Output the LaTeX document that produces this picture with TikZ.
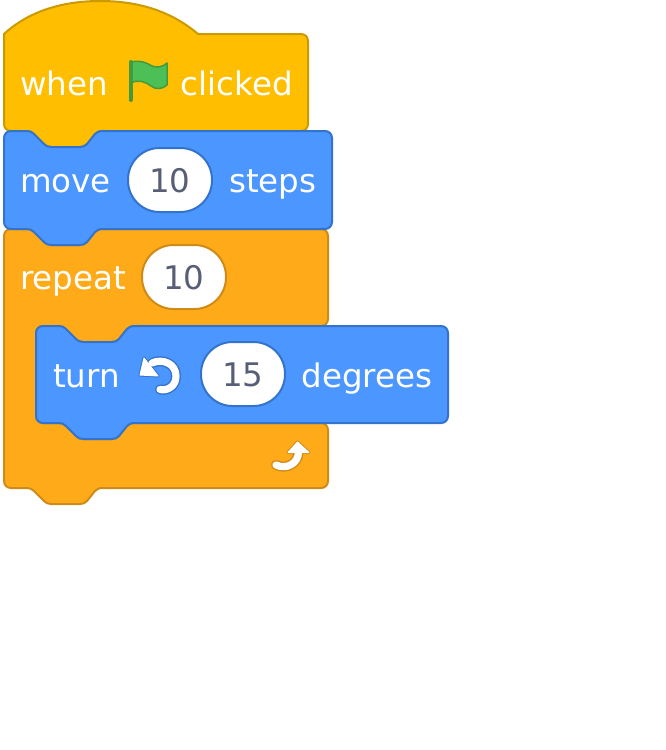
\documentclass[tikz,border=0pt]{standalone}
\usepackage{fontspec}
\setmainfont{DejaVu Sans}
\definecolor{hatfill}{HTML}{FFBF00}
\definecolor{hatline}{HTML}{CC9900}
\definecolor{motfill}{HTML}{4C97FF}
\definecolor{motline}{HTML}{3373CC}
\definecolor{ctlfill}{HTML}{FFAB19}
\definecolor{ctlline}{HTML}{CF8B17}
\definecolor{numtext}{HTML}{575E75}
\definecolor{flagfill}{HTML}{4CBF56}
\definecolor{flagline}{HTML}{45993D}
% notch going left to right (#1 = left edge of the block, #2 = y of the edge)
\newcommand{\notchLR}[2]{
  -- ({#1+23},{#2}) .. controls ({#1+26},{#2}) and ({#1+28},{#2+1}) .. ({#1+30},{#2+3})
  -- ({#1+40},{#2+13}) .. controls ({#1+42},{#2+15}) and ({#1+44},{#2+16}) .. ({#1+47},{#2+16})
  -- ({#1+76},{#2+16}) .. controls ({#1+79},{#2+16}) and ({#1+81},{#2+15}) .. ({#1+83},{#2+13})
  -- ({#1+91},{#2+3}) .. controls ({#1+93},{#2+1}) and ({#1+95},{#2}) .. ({#1+99},{#2})
}
\newcommand{\notchRL}[2]{
  -- ({#1+99},{#2}) .. controls ({#1+95},{#2}) and ({#1+93},{#2+1}) .. ({#1+91},{#2+3})
  -- ({#1+83},{#2+13}) .. controls ({#1+81},{#2+15}) and ({#1+79},{#2+16}) .. ({#1+76},{#2+16})
  -- ({#1+47},{#2+16}) .. controls ({#1+44},{#2+16}) and ({#1+42},{#2+15}) .. ({#1+40},{#2+13})
  -- ({#1+30},{#2+3}) .. controls ({#1+28},{#2+1}) and ({#1+26},{#2}) .. ({#1+23},{#2})
}
\newcommand{\cTR}[2]{-- ({#1-7},{#2}) .. controls ({#1-3},{#2}) and ({#1},{#2+3}) .. ({#1},{#2+7})}
\newcommand{\cBR}[2]{-- ({#1},{#2-7}) .. controls ({#1},{#2-3}) and ({#1-3},{#2}) .. ({#1-7},{#2})}
\newcommand{\cBL}[2]{-- ({#1+7},{#2}) .. controls ({#1+3},{#2}) and ({#1},{#2-3}) .. ({#1},{#2-7})}
\tikzset{
  x=1pt,y=-1pt,
  blockedge/.style={line width=2pt,line join=round},
  label/.style={anchor=base west,inner sep=0pt,text=white,font=\fontsize{32.5}{38}\selectfont},
  pill/.style={draw=#1,line width=2pt,fill=white,rounded corners=31.5pt,minimum width=84pt,minimum height=64pt,inner sep=0pt,text height=24.5pt,text depth=0pt,text=numtext,font=\fontsize{32.5}{38}\selectfont},
}
\begin{document}
\begin{tikzpicture}
\useasboundingbox (0,0) rectangle (666,750);
\fill[white] (0,0) rectangle (666,750);
% hat block
\draw[blockedge,fill=hatfill,draw=hatline] (4,34) .. controls (30,10) and (65,1) .. (100,1)
  .. controls (140,1) and (172,12) .. (198,34)
  \cTR{308}{34} \cBR{308}{131} \notchRL{4}{131} \cBL{4}{131} -- cycle;
% repeat block
\draw[blockedge,fill=ctlfill,draw=ctlline] (4,236) .. controls (4,232) and (7,229) .. (11,229)
  \notchLR{4}{229} \cTR{328}{229} \cBR{328}{326} \notchRL{36}{326} -- (43,326)
  .. controls (39,326) and (36,329) .. (36,333) -- (36,416) .. controls (36,420) and (39,423) .. (43,423)
  \notchLR{36}{423} \cTR{328}{423} \cBR{328}{488} \notchRL{4}{488} \cBL{4}{488} -- cycle;
% move block
\draw[blockedge,fill=motfill,draw=motline] (4,138) .. controls (4,134) and (7,131) .. (11,131)
  \notchLR{4}{131} \cTR{332}{131} \cBR{332}{229} \notchRL{4}{229} \cBL{4}{229} -- cycle;
% turn block
\draw[blockedge,fill=motfill,draw=motline] (36,333) .. controls (36,329) and (39,326) .. (43,326)
  \notchLR{36}{326} \cTR{448}{326} \cBR{448}{423} \notchRL{36}{423} \cBL{36}{423} -- cycle;
% texts
\node[label] (when) at (20,95) {when};
\node[label] (clicked) at (180.5,95) {clicked};
\node[label] (move) at (20,192) {move};
\node[label] (steps) at (229,192) {steps};
\node[label] (repeat) at (20,289.5) {repeat};
\node[label] (turn) at (53,387) {turn};
\node[label] (degrees) at (301.5,387) {degrees};
% inputs
\node[pill=motline] (n10a) at (170,180) {10};
\node[pill=ctlline] (n10b) at (184,277) {10};
\node[pill=motline] (n15) at (243,374) {15};
% flag
\draw[fill=flagfill,draw=flagline,line width=1.5pt,line join=round] (131,62)
  .. controls (141,60) and (147,63) .. (152,66) .. controls (157,68) and (163,67) .. (167,63)
  -- (167,85) .. controls (163,89) and (156,90) .. (151,86) .. controls (146,82) and (138,79) .. (131,83) -- cycle;
\draw[flagline,line width=4pt,line cap=round] (130.5,62) -- (130.5,100);
% turn-left icon
\draw[motline,line width=10pt,line cap=round] (152,363) .. controls (163,358) and (176,364) .. (176,376) .. controls (176,386) and (168,391) .. (160,389.5);
\draw[motline,line width=3pt,line join=round,fill=white] (144,358) -- (140,375) -- (158,376) -- cycle;
\draw[white,line width=7.2pt,line cap=round] (152,363) .. controls (163,358) and (176,364) .. (176,376) .. controls (176,386) and (168,391) .. (160,389.5);
\fill[white,draw=white,line width=1pt,line join=round] (144,358) -- (140,375) -- (158,376) -- cycle;
% repeat arrow icon
\draw[ctlline,line width=10pt,line cap=round] (298.5,452) .. controls (298.5,463) and (287,470) .. (276,465);
\draw[ctlline,line width=3pt,line join=round,fill=white] (297.5,442) -- (288,452.5) -- (309,452.5) -- cycle;
\draw[white,line width=7.2pt,line cap=round] (298.5,452) .. controls (298.5,463) and (287,470) .. (276,465);
\fill[white,draw=white,line width=1pt,line join=round] (297.5,442) -- (288,452.5) -- (309,452.5) -- cycle;
\end{tikzpicture}
\end{document}
